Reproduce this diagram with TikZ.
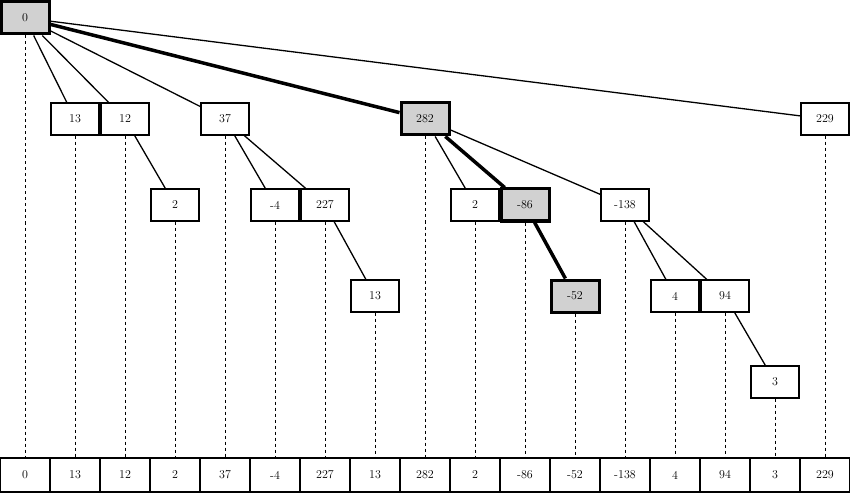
\documentclass[tikz,border=0pt]{standalone}
\usetikzlibrary{backgrounds}
\begin{document}
\begin{tikzpicture}[x=1pt,y=-1pt,
  box/.style={draw,fill=white,minimum width=48pt,minimum height=32pt,inner sep=0pt,line width=1.3pt,font=\fontsize{12}{14}\selectfont},
  hot/.style={box,fill=black!18,line width=3pt},
  cell/.style={draw,fill=white,minimum width=50pt,minimum height=34pt,inner sep=0pt,line width=1.1pt,font=\fontsize{12}{14}\selectfont},
  edge/.style={line width=1.3pt},
  hedge/.style={line width=3.5pt},
  dashline/.style={dashed,line width=0.8pt}]
\useasboundingbox (0,0) rectangle (850,494);
\foreach \v [count=\i from 0] in {0,13,12,2,37,-4,227,13,282,2,-86,-52,-138,4,94,3,229}
  \node[cell] (c\i) at (25+50*\i,475) {\v};
\node[hot] (n0) at (25,18) {0};
\node[box] (n1) at (75,119) {13};
\node[box] (n2) at (125,119) {12};
\node[box] (n4) at (225,119) {37};
\node[hot] (n8) at (425,119) {282};
\node[box] (n16) at (825,119) {229};
\node[box] (n3) at (175,205) {2};
\node[box] (n5) at (275,205) {-4};
\node[box] (n6) at (325,205) {227};
\node[box] (n9) at (475,205) {2};
\node[hot] (n10) at (525,205) {-86};
\node[box] (n12) at (625,205) {-138};
\node[box] (n7) at (375,296) {13};
\node[hot] (n11) at (575,296) {-52};
\node[box] (n13) at (675,296) {4};
\node[box] (n14) at (725,296) {94};
\node[box] (n15) at (775,382) {3};
\begin{scope}[on background layer]
\draw[edge] (n0)--(n1); \draw[edge] (n0)--(n2); \draw[edge] (n0)--(n4);
\draw[hedge] (n0)--(n8); \draw[edge] (n0)--(n16);
\draw[edge] (n2)--(n3); \draw[edge] (n4)--(n5); \draw[edge] (n4)--(n6);
\draw[edge] (n6)--(n7); \draw[edge] (n8)--(n9); \draw[hedge] (n8)--(n10);
\draw[edge] (n8)--(n12); \draw[hedge] (n10)--(n11);
\draw[edge] (n12)--(n13); \draw[edge] (n12)--(n14); \draw[edge] (n14)--(n15);
\foreach \i in {0,...,16} \draw[dashline] (n\i.south)--(c\i.north);
\end{scope}
\end{tikzpicture}
\end{document}
